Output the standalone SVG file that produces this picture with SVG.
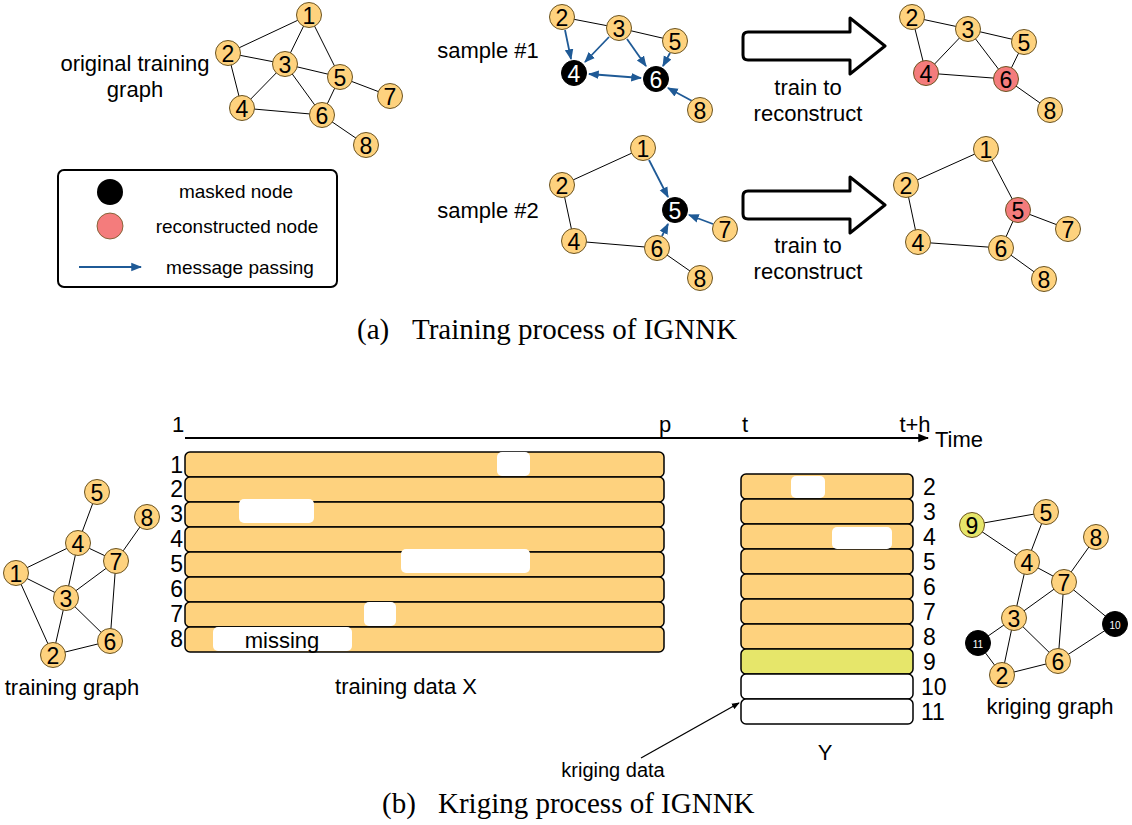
<svg xmlns="http://www.w3.org/2000/svg" width="1132" height="825" viewBox="0 0 1132 825">
<defs>
<marker id="ab" viewBox="0 0 10 10" refX="9" refY="5" markerWidth="6" markerHeight="6" orient="auto-start-reverse"><path d="M0,1 L10,5 L0,9 z" fill="#1f5a96"/></marker>
<marker id="ak" viewBox="0 0 10 10" refX="9" refY="5" markerWidth="6" markerHeight="6" orient="auto"><path d="M0,1 L10,5 L0,9 z" fill="#000"/></marker>
<style>
text{font-family:"Liberation Sans",Arial,sans-serif;fill:#000}
.n circle{fill:#fed27e;stroke:#6b5320;stroke-width:1}
.n text{font-size:23px;text-anchor:middle;dominant-baseline:central}
.k circle{fill:#000;stroke:#000}
.k text{fill:#fff}
.r circle{fill:#f47c7c}
.g circle{fill:#e6e66a}
.e line{stroke:#000;stroke-width:1}
.m line{stroke:#1f5a96;stroke-width:1.8;marker-end:url(#ab)}
.lb{font-size:22px}
.nm{font-size:23px}
.cap{font-family:"Liberation Serif","Times New Roman",serif;font-size:29px}
.row{fill:#fed27e;stroke:#000;stroke-width:1.5}
.hole{fill:#fff}
</style>
</defs>

<!-- original training graph -->
<g id="og-edges" class="e">
<line x1="309" y1="15" x2="228" y2="53"/><line x1="309" y1="15" x2="285" y2="64"/><line x1="309" y1="15" x2="340" y2="77"/>
<line x1="228" y1="53" x2="285" y2="64"/><line x1="228" y1="53" x2="242" y2="108"/><line x1="285" y1="64" x2="242" y2="108"/>
<line x1="285" y1="64" x2="340" y2="77"/><line x1="285" y1="64" x2="322" y2="115"/><line x1="340" y1="77" x2="322" y2="115"/>
<line x1="340" y1="77" x2="390" y2="96"/><line x1="242" y1="108" x2="322" y2="115"/><line x1="322" y1="115" x2="366" y2="145"/>
</g>
<g id="og-nodes">
<g class="n"><circle cx="309" cy="15" r="12.5"/><text x="309" y="16">1</text></g>
<g class="n"><circle cx="228" cy="53" r="12.5"/><text x="228" y="54">2</text></g>
<g class="n"><circle cx="285" cy="64" r="12.5"/><text x="285" y="65">3</text></g>
<g class="n"><circle cx="340" cy="77" r="12.5"/><text x="340" y="78">5</text></g>
<g class="n"><circle cx="390" cy="96" r="12.5"/><text x="390" y="97">7</text></g>
<g class="n"><circle cx="242" cy="108" r="12.5"/><text x="242" y="109">4</text></g>
<g class="n"><circle cx="322" cy="115" r="12.5"/><text x="322" y="116">6</text></g>
<g class="n"><circle cx="366" cy="145" r="12.5"/><text x="366" y="146">8</text></g>
</g>
<text class="lb" x="135" y="71" text-anchor="middle">original training</text>
<text class="lb" x="135" y="97" text-anchor="middle">graph</text>

<!-- legend -->
<g id="legend">
<rect x="58" y="170" width="279" height="117" rx="6" fill="#fff" stroke="#000" stroke-width="2"/>
<circle cx="110" cy="192" r="13" fill="#000"/>
<circle cx="110" cy="226" r="13" fill="#f47c7c" stroke="#6b5320" stroke-width="0.8"/>
<line x1="79" y1="267" x2="141" y2="267" stroke="#1f5a96" stroke-width="1.8" marker-end="url(#ab)"/>
<text x="236" y="198" font-size="19" text-anchor="middle">masked node</text>
<text x="237" y="233" font-size="19" text-anchor="middle">reconstructed node</text>
<text x="240" y="274" font-size="19" text-anchor="middle">message passing</text>
</g>

<!-- sample 1 -->
<text class="lb" x="488" y="58" text-anchor="middle">sample #1</text>
<g id="s1-edges">
<g class="e"><line x1="562" y1="17" x2="619" y2="28"/><line x1="619" y1="28" x2="675" y2="41"/></g>
<g class="m">
<line x1="565" y1="30" x2="571" y2="59"/>
<line x1="609" y1="37" x2="585" y2="62"/>
<line x1="627" y1="39" x2="646" y2="66"/>
<line x1="670" y1="53" x2="663" y2="66"/>
<line x1="694" y1="102" x2="668" y2="88"/>
<line x1="589" y1="74" x2="641" y2="78" marker-start="url(#ab)"/>
</g>
</g>
<g id="s1-nodes">
<g class="n"><circle cx="562" cy="17" r="12.5"/><text x="562" y="18">2</text></g>
<g class="n"><circle cx="619" cy="28" r="12.5"/><text x="619" y="29">3</text></g>
<g class="n"><circle cx="675" cy="41" r="12.5"/><text x="675" y="42">5</text></g>
<g class="n k"><circle cx="574" cy="73" r="12.5"/><text x="574" y="74">4</text></g>
<g class="n k"><circle cx="656" cy="79" r="12.5"/><text x="656" y="80">6</text></g>
<g class="n"><circle cx="700" cy="110" r="12.5"/><text x="700" y="111">8</text></g>
</g>

<!-- sample 2 -->
<text class="lb" x="488" y="218" text-anchor="middle">sample #2</text>
<g id="s2-edges">
<g class="e"><line x1="643" y1="148" x2="562" y2="185"/><line x1="562" y1="185" x2="574" y2="241"/><line x1="574" y1="241" x2="657" y2="248"/><line x1="657" y1="248" x2="700" y2="278"/></g>
<g class="m">
<line x1="649" y1="160" x2="668" y2="197"/>
<line x1="713" y1="224" x2="689" y2="215"/>
<line x1="662" y1="236" x2="668" y2="224"/>
</g>
</g>
<g id="s2-nodes">
<g class="n"><circle cx="643" cy="148" r="12.5"/><text x="643" y="149">1</text></g>
<g class="n"><circle cx="562" cy="185" r="12.5"/><text x="562" y="186">2</text></g>
<g class="n k"><circle cx="675" cy="210" r="12.5"/><text x="675" y="211">5</text></g>
<g class="n"><circle cx="725" cy="229" r="12.5"/><text x="725" y="230">7</text></g>
<g class="n"><circle cx="574" cy="241" r="12.5"/><text x="574" y="242">4</text></g>
<g class="n"><circle cx="657" cy="248" r="12.5"/><text x="657" y="249">6</text></g>
<g class="n"><circle cx="700" cy="278" r="12.5"/><text x="700" y="279">8</text></g>
</g>

<!-- big arrows -->
<g id="arrow1"><path d="M748,32 L850,32 L850,18 L885,46 L850,74 L850,60 L748,60 Q743,60 743,55 L743,37 Q743,32 748,32 Z" fill="#fff" stroke="#000" stroke-width="3" stroke-linejoin="round"/></g>
<text class="lb" x="808" y="95" text-anchor="middle">train to</text>
<text class="lb" x="808" y="121" text-anchor="middle">reconstruct</text>
<g id="arrow2"><path d="M748,191 L850,191 L850,177 L885,205 L850,233 L850,219 L748,219 Q743,219 743,214 L743,196 Q743,191 748,191 Z" fill="#fff" stroke="#000" stroke-width="3" stroke-linejoin="round"/></g>
<text class="lb" x="808" y="253" text-anchor="middle">train to</text>
<text class="lb" x="808" y="279" text-anchor="middle">reconstruct</text>

<!-- reconstructed 1 -->
<g id="r1-edges" class="e">
<line x1="912" y1="17" x2="968" y2="29"/><line x1="912" y1="17" x2="926" y2="73"/><line x1="968" y1="29" x2="926" y2="73"/>
<line x1="968" y1="29" x2="1024" y2="42"/><line x1="968" y1="29" x2="1006" y2="79"/><line x1="1024" y1="42" x2="1006" y2="79"/>
<line x1="926" y1="73" x2="1006" y2="79"/><line x1="1006" y1="79" x2="1050" y2="110"/>
</g>
<g id="r1-nodes">
<g class="n"><circle cx="912" cy="17" r="12.5"/><text x="912" y="18">2</text></g>
<g class="n"><circle cx="968" cy="29" r="12.5"/><text x="968" y="30">3</text></g>
<g class="n"><circle cx="1024" cy="42" r="12.5"/><text x="1024" y="43">5</text></g>
<g class="n r"><circle cx="926" cy="73" r="12.5"/><text x="926" y="74">4</text></g>
<g class="n r"><circle cx="1006" cy="79" r="12.5"/><text x="1006" y="80">6</text></g>
<g class="n"><circle cx="1050" cy="110" r="12.5"/><text x="1050" y="111">8</text></g>
</g>

<!-- reconstructed 2 -->
<g id="r2-edges" class="e">
<line x1="986" y1="149" x2="906" y2="185"/><line x1="986" y1="149" x2="1018" y2="210"/><line x1="906" y1="185" x2="918" y2="242"/>
<line x1="918" y1="242" x2="1001" y2="248"/><line x1="1018" y1="210" x2="1001" y2="248"/><line x1="1018" y1="210" x2="1068" y2="229"/>
<line x1="1001" y1="248" x2="1044" y2="279"/>
</g>
<g id="r2-nodes">
<g class="n"><circle cx="986" cy="149" r="12.5"/><text x="986" y="150">1</text></g>
<g class="n"><circle cx="906" cy="185" r="12.5"/><text x="906" y="186">2</text></g>
<g class="n r"><circle cx="1018" cy="210" r="12.5"/><text x="1018" y="211">5</text></g>
<g class="n"><circle cx="1068" cy="229" r="12.5"/><text x="1068" y="230">7</text></g>
<g class="n"><circle cx="918" cy="242" r="12.5"/><text x="918" y="243">4</text></g>
<g class="n"><circle cx="1001" cy="248" r="12.5"/><text x="1001" y="249">6</text></g>
<g class="n"><circle cx="1044" cy="279" r="12.5"/><text x="1044" y="280">8</text></g>
</g>

<text class="cap" x="357" y="339">(a)</text>
<text class="cap" x="412" y="339">Training process of IGNNK</text>

<!-- timeline -->
<g id="timeline">
<line x1="185" y1="438" x2="928" y2="438" stroke="#000" stroke-width="1.8" marker-end="url(#ak)"/>
<text class="lb" x="178" y="432" text-anchor="middle">1</text>
<text class="lb" x="665" y="432" text-anchor="middle">p</text>
<text class="lb" x="745" y="432" text-anchor="middle">t</text>
<text class="lb" x="915" y="432" text-anchor="middle">t+h</text>
<text class="lb" x="935" y="447">Time</text>
</g>

<!-- training data X -->
<g id="train-data">
<rect class="row" x="185" y="452" width="479" height="25" rx="5"/>
<rect class="row" x="185" y="477" width="479" height="25" rx="5"/>
<rect class="row" x="185" y="502" width="479" height="25" rx="5"/>
<rect class="row" x="185" y="527" width="479" height="25" rx="5"/>
<rect class="row" x="185" y="552" width="479" height="25" rx="5"/>
<rect class="row" x="185" y="577" width="479" height="25" rx="5"/>
<rect class="row" x="185" y="602" width="479" height="25" rx="5"/>
<rect class="row" x="185" y="627" width="479" height="25" rx="5"/>
<rect class="hole" x="497" y="452" width="33" height="24" rx="5"/>
<rect class="hole" x="239" y="499" width="75" height="24" rx="5"/>
<rect class="hole" x="401" y="549" width="129" height="24" rx="5"/>
<rect class="hole" x="364" y="602" width="32" height="24" rx="5"/>
<rect class="hole" x="213" y="627" width="139" height="24" rx="5"/>
<text x="282" y="648" font-size="22" text-anchor="middle">missing</text>
<g class="nm" text-anchor="end">
<text x="183" y="473">1</text><text x="183" y="497">2</text><text x="183" y="522">3</text><text x="183" y="547">4</text>
<text x="183" y="572">5</text><text x="183" y="597">6</text><text x="183" y="622">7</text><text x="183" y="647">8</text>
</g>
<text class="lb" x="406" y="694" text-anchor="middle">training data X</text>
</g>

<!-- training graph -->
<g id="tg-edges" class="e">
<line x1="97" y1="492" x2="78" y2="543"/><line x1="147" y1="517" x2="116" y2="561"/><line x1="78" y1="543" x2="16" y2="573"/>
<line x1="78" y1="543" x2="116" y2="561"/><line x1="78" y1="543" x2="66" y2="598"/><line x1="16" y1="573" x2="66" y2="598"/>
<line x1="16" y1="573" x2="53" y2="655"/><line x1="66" y1="598" x2="116" y2="561"/><line x1="66" y1="598" x2="53" y2="655"/>
<line x1="66" y1="598" x2="110" y2="641"/><line x1="116" y1="561" x2="110" y2="641"/><line x1="53" y1="655" x2="110" y2="641"/>
</g>
<g id="tg-nodes">
<g class="n"><circle cx="97" cy="492" r="12.5"/><text x="97" y="493">5</text></g>
<g class="n"><circle cx="147" cy="517" r="12.5"/><text x="147" y="518">8</text></g>
<g class="n"><circle cx="78" cy="543" r="12.5"/><text x="78" y="544">4</text></g>
<g class="n"><circle cx="116" cy="561" r="12.5"/><text x="116" y="562">7</text></g>
<g class="n"><circle cx="16" cy="573" r="12.5"/><text x="16" y="574">1</text></g>
<g class="n"><circle cx="66" cy="598" r="12.5"/><text x="66" y="599">3</text></g>
<g class="n"><circle cx="110" cy="641" r="12.5"/><text x="110" y="642">6</text></g>
<g class="n"><circle cx="53" cy="655" r="12.5"/><text x="53" y="656">2</text></g>
</g>
<text class="lb" x="72" y="695" text-anchor="middle">training graph</text>

<!-- Y data -->
<g id="y-data">
<rect class="row" x="741" y="474" width="172" height="25" rx="5"/>
<rect class="row" x="741" y="499" width="172" height="25" rx="5"/>
<rect class="row" x="741" y="524" width="172" height="25" rx="5"/>
<rect class="row" x="741" y="549" width="172" height="25" rx="5"/>
<rect class="row" x="741" y="574" width="172" height="25" rx="5"/>
<rect class="row" x="741" y="599" width="172" height="25" rx="5"/>
<rect class="row" x="741" y="624" width="172" height="25" rx="5"/>
<rect class="row" x="741" y="649" width="172" height="25" rx="5" style="fill:#e6e66a"/>
<rect class="row" x="741" y="674" width="172" height="25" rx="5" style="fill:#fff"/>
<rect class="row" x="741" y="699" width="172" height="25" rx="5" style="fill:#fff"/>
<rect class="hole" x="791" y="476" width="34" height="22" rx="5"/>
<rect class="hole" x="832" y="527" width="60" height="22" rx="5"/>
<g class="nm">
<text x="923" y="495">2</text><text x="923" y="520">3</text><text x="923" y="545">4</text><text x="923" y="570">5</text>
<text x="923" y="595">6</text><text x="923" y="620">7</text><text x="923" y="645">8</text><text x="923" y="670">9</text>
<text x="921" y="695">10</text><text x="921" y="720">11</text>
</g>
<text class="lb" x="825" y="760" text-anchor="middle">Y</text>
<line x1="641" y1="758" x2="739" y2="703" stroke="#000" stroke-width="1.3" marker-end="url(#ak)"/>
<text x="613" y="777" font-size="20" text-anchor="middle">kriging data</text>
</g>

<!-- kriging graph -->
<g id="kg-edges" class="e">
<line x1="972" y1="525" x2="1046" y2="512"/><line x1="972" y1="525" x2="1027" y2="562"/><line x1="1046" y1="512" x2="1027" y2="562"/>
<line x1="1027" y1="562" x2="1064" y2="582"/><line x1="1096" y1="537" x2="1064" y2="582"/><line x1="1027" y1="562" x2="1014" y2="618"/>
<line x1="1064" y1="582" x2="1014" y2="618"/><line x1="1064" y1="582" x2="1058" y2="661"/><line x1="1064" y1="582" x2="1115" y2="624"/>
<line x1="1014" y1="618" x2="978" y2="643"/><line x1="978" y1="643" x2="1002" y2="675"/><line x1="1014" y1="618" x2="1002" y2="675"/>
<line x1="1014" y1="618" x2="1058" y2="661"/><line x1="1002" y1="675" x2="1058" y2="661"/><line x1="1058" y1="661" x2="1115" y2="624"/>
</g>
<g id="kg-nodes">
<g class="n g"><circle cx="972" cy="525" r="12.5"/><text x="972" y="526">9</text></g>
<g class="n"><circle cx="1046" cy="512" r="12.5"/><text x="1046" y="513">5</text></g>
<g class="n"><circle cx="1096" cy="537" r="12.5"/><text x="1096" y="538">8</text></g>
<g class="n"><circle cx="1027" cy="562" r="12.5"/><text x="1027" y="563">4</text></g>
<g class="n"><circle cx="1064" cy="582" r="12.5"/><text x="1064" y="583">7</text></g>
<g class="n"><circle cx="1014" cy="618" r="12.5"/><text x="1014" y="619">3</text></g>
<g class="n k"><circle cx="978" cy="643" r="12.5"/><text x="978" y="644" style="font-size:10px">11</text></g>
<g class="n k"><circle cx="1115" cy="624" r="12.5"/><text x="1115" y="625" style="font-size:10px">10</text></g>
<g class="n"><circle cx="1058" cy="661" r="12.5"/><text x="1058" y="662">6</text></g>
<g class="n"><circle cx="1002" cy="675" r="12.5"/><text x="1002" y="676">2</text></g>
</g>
<text class="lb" x="1050" y="714" text-anchor="middle">kriging graph</text>

<text class="cap" x="382" y="813">(b)</text>
<text class="cap" x="438" y="813">Kriging process of IGNNK</text>
</svg>
